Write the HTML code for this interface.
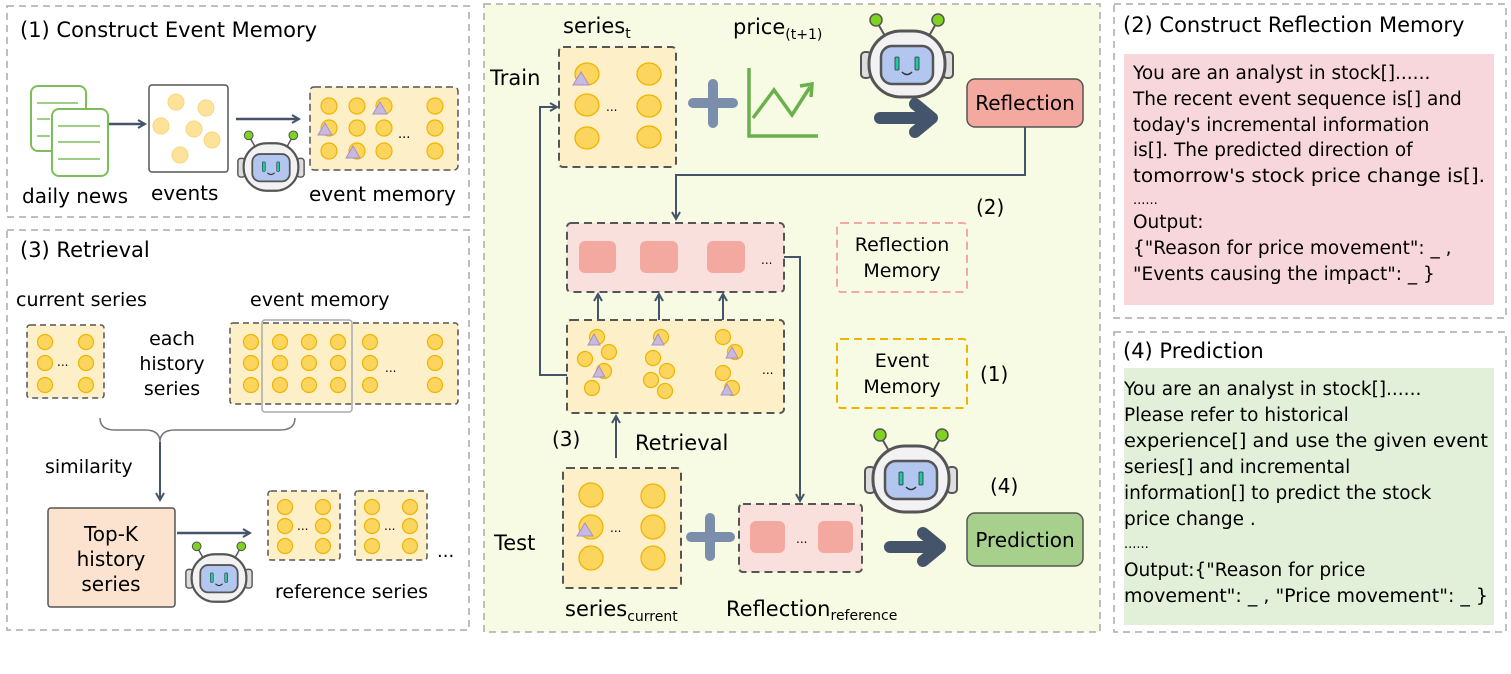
<!DOCTYPE html>
<html><head><meta charset="utf-8"><style>
html,body{margin:0;padding:0;background:#fff;}
svg{display:block;font-family:"DejaVu Sans","Liberation Sans",sans-serif;}
</style></head><body>
<svg width="1511" height="674" viewBox="0 0 1511 674" xmlns="http://www.w3.org/2000/svg">
<defs>
<marker id="ah" markerWidth="10" markerHeight="10" refX="8" refY="5" orient="auto" markerUnits="userSpaceOnUse">
<path d="M1,1 L8,5 L1,9" fill="none" stroke="#44546a" stroke-width="2"/></marker>
<g id="robot">
<line x1="-22" y1="-28" x2="-30" y2="-42" stroke="#555" stroke-width="2"/>
<line x1="22" y1="-28" x2="30" y2="-42" stroke="#555" stroke-width="2"/>
<circle cx="-31" cy="-44" r="6" fill="#7ed321" stroke="#555" stroke-width="1.5"/>
<circle cx="31" cy="-44" r="6" fill="#7ed321" stroke="#555" stroke-width="1.5"/>
<rect x="-46" y="-12" width="10" height="26" rx="4" fill="#ddd" stroke="#555" stroke-width="2"/>
<rect x="36" y="-12" width="10" height="26" rx="4" fill="#ddd" stroke="#555" stroke-width="2"/>
<rect x="-38" y="-33" width="76" height="66" rx="32" fill="#f2f2f2" stroke="#555" stroke-width="3"/>
<rect x="-26" y="-18" width="52" height="38" rx="11" fill="#b3c6ef" stroke="#555" stroke-width="2.5"/>
<rect x="-12" y="-7" width="4" height="13" rx="1" fill="#22c9a0" stroke="#333" stroke-width="0.8"/>
<rect x="8" y="-7" width="4" height="13" rx="1" fill="#22c9a0" stroke="#333" stroke-width="0.8"/>
<path d="M-5,8 Q0,13 5,8" fill="none" stroke="#333" stroke-width="1.5"/>
</g>
</defs>

<!-- Panel 1 -->
<rect x="7" y="6" width="462" height="211" fill="none" stroke="#aaa" stroke-width="1.5" stroke-dasharray="7,5"/>
<text x="20" y="37" font-size="21">(1) Construct Event Memory</text>
<rect x="31" y="86" width="55" height="65" rx="7" fill="#fff" stroke="#7cbf5a" stroke-width="2"/>
<rect x="52" y="109" width="56" height="67" rx="7" fill="#fff" stroke="#7cbf5a" stroke-width="2"/>
<g stroke="#7cbf5a" stroke-width="1.5"><line x1="37" y1="103" x2="78" y2="103"/><line x1="37" y1="119" x2="50" y2="119"/><line x1="37" y1="136" x2="50" y2="136"/>
<line x1="58" y1="126" x2="100" y2="126"/><line x1="58" y1="142" x2="100" y2="142"/><line x1="58" y1="159" x2="100" y2="159"/></g>
<line x1="109" y1="124" x2="145" y2="124" stroke="#44546a" stroke-width="2.5" marker-end="url(#ah)"/>
<rect x="149" y="85" width="79" height="87" rx="3" fill="#fff" stroke="#555" stroke-width="1.5"/>
<g fill="#fde39a" stroke="#f9d77b"><circle cx="176" cy="102" r="8"/><circle cx="206" cy="108" r="8"/><circle cx="161" cy="126" r="8"/><circle cx="194" cy="129" r="8"/><circle cx="212" cy="140" r="8"/><circle cx="180" cy="155" r="8"/></g>
<line x1="236" y1="119" x2="299" y2="119" stroke="#44546a" stroke-width="2.5" marker-end="url(#ah)"/>
<rect x="310" y="87" width="148" height="83" rx="4" fill="#fdf0c8" stroke="#555" stroke-width="1.5" stroke-dasharray="7,4"/>
<g fill="#fcd55f" stroke="#f0b400" stroke-width="1.2">
<circle cx="329" cy="106" r="8"/><circle cx="357" cy="106" r="8"/><circle cx="384" cy="106" r="8"/><circle cx="435" cy="106" r="8"/>
<circle cx="329" cy="128" r="8"/><circle cx="357" cy="128" r="8"/><circle cx="384" cy="128" r="8"/><circle cx="435" cy="128" r="8"/>
<circle cx="329" cy="151" r="8"/><circle cx="357" cy="151" r="8"/><circle cx="384" cy="151" r="8"/><circle cx="435" cy="151" r="8"/></g>
<g fill="#c9b8e0" stroke="#a493c6"><path d="M373,114 L380,102 L387,114Z"/><path d="M318,135 L325,123 L332,135Z"/><path d="M346,158 L353,146 L360,158Z"/></g>
<text x="398" y="138" font-size="13">...</text>
<use href="#robot" transform="translate(271,167) scale(0.72)"/>
<text x="22" y="203" font-size="20">daily news</text>
<text x="151" y="200" font-size="20">events</text>
<text x="309" y="201" font-size="20">event memory</text>

<!-- Panel 3 -->
<rect x="7" y="230" width="462" height="400" fill="none" stroke="#aaa" stroke-width="1.5" stroke-dasharray="7,5"/>
<text x="20" y="257" font-size="21">(3) Retrieval</text>
<text x="16" y="306" font-size="19">current series</text>
<text x="250" y="306" font-size="19">event memory</text>
<rect x="27" y="325" width="77" height="73" rx="3" fill="#fdf0c8" stroke="#555" stroke-width="1.5" stroke-dasharray="6,4"/>
<g fill="#fcd55f" stroke="#f0b400" stroke-width="1.2">
<circle cx="45" cy="342" r="7.5"/><circle cx="86" cy="342" r="7.5"/><circle cx="45" cy="363" r="7.5"/><circle cx="86" cy="363" r="7.5"/><circle cx="45" cy="385" r="7.5"/><circle cx="86" cy="385" r="7.5"/></g>
<text x="57" y="366" font-size="12">...</text>
<text x="172" y="345" font-size="19" text-anchor="middle">each</text>
<text x="172" y="370" font-size="19" text-anchor="middle">history</text>
<text x="172" y="395" font-size="19" text-anchor="middle">series</text>
<rect x="230" y="323" width="228" height="81" rx="3" fill="#fdf0c8" stroke="#555" stroke-width="1.5" stroke-dasharray="6,4"/>
<g fill="#fcd55f" stroke="#f0b400" stroke-width="1.2">
<circle cx="251" cy="342" r="7.5"/><circle cx="280" cy="342" r="7.5"/><circle cx="309" cy="342" r="7.5"/><circle cx="338" cy="342" r="7.5"/><circle cx="370" cy="342" r="7.5"/><circle cx="435" cy="342" r="7.5"/>
<circle cx="251" cy="363" r="7.5"/><circle cx="280" cy="363" r="7.5"/><circle cx="309" cy="363" r="7.5"/><circle cx="338" cy="363" r="7.5"/><circle cx="370" cy="363" r="7.5"/><circle cx="435" cy="363" r="7.5"/>
<circle cx="251" cy="385" r="7.5"/><circle cx="280" cy="385" r="7.5"/><circle cx="309" cy="385" r="7.5"/><circle cx="338" cy="385" r="7.5"/><circle cx="370" cy="385" r="7.5"/><circle cx="435" cy="385" r="7.5"/></g>
<text x="385" y="372" font-size="12">...</text>
<rect x="262" y="320" width="90" height="92" rx="3" fill="none" stroke="#aaa" stroke-width="1.5"/>
<path d="M100,418 Q100,430 115,430 L145,430 Q160,430 160,442 Q160,430 175,430 L280,430 Q295,430 295,418" fill="none" stroke="#777" stroke-width="1.5"/>
<line x1="160" y1="442" x2="160" y2="500" stroke="#44546a" stroke-width="2" marker-end="url(#ah)"/>
<text x="45" y="473" font-size="19">similarity</text>
<rect x="48" y="508" width="127" height="99" rx="3" fill="#fbe3cf" stroke="#555" stroke-width="1.5"/>
<text x="111" y="541" font-size="20" text-anchor="middle">Top-K</text>
<text x="111" y="566" font-size="20" text-anchor="middle">history</text>
<text x="111" y="591" font-size="20" text-anchor="middle">series</text>
<line x1="177" y1="533" x2="250" y2="533" stroke="#44546a" stroke-width="2.5" marker-end="url(#ah)"/>
<use href="#robot" transform="translate(219,578) scale(0.72)"/>
<g fill="#fdf0c8" stroke="#555" stroke-width="1.5" stroke-dasharray="6,4"><rect x="268" y="491" width="72" height="69" rx="3"/><rect x="355" y="491" width="72" height="69" rx="3"/></g>
<g fill="#fcd55f" stroke="#f0b400" stroke-width="1.2">
<circle cx="285" cy="507" r="7.5"/><circle cx="323" cy="507" r="7.5"/><circle cx="285" cy="526" r="7.5"/><circle cx="323" cy="526" r="7.5"/><circle cx="285" cy="546" r="7.5"/><circle cx="323" cy="546" r="7.5"/>
<circle cx="372" cy="507" r="7.5"/><circle cx="410" cy="507" r="7.5"/><circle cx="372" cy="526" r="7.5"/><circle cx="410" cy="526" r="7.5"/><circle cx="372" cy="546" r="7.5"/><circle cx="410" cy="546" r="7.5"/></g>
<text x="297" y="530" font-size="12">...</text><text x="384" y="530" font-size="12">...</text>
<text x="437" y="557" font-size="18">...</text>
<text x="275" y="598" font-size="19">reference series</text>

<!-- Center panel -->
<rect x="484" y="4" width="616" height="628" fill="#f8fbe3" stroke="#aaa" stroke-width="1.5" stroke-dasharray="7,5"/>
<text x="563" y="33" font-size="21">series<tspan font-size="14" dy="5">t</tspan></text>
<text x="733" y="34" font-size="21">price<tspan font-size="14" dy="5">(t+1)</tspan></text>
<text x="490" y="85" font-size="21">Train</text>
<rect x="559" y="47" width="117" height="120" rx="4" fill="#fdf0c8" stroke="#555" stroke-width="2" stroke-dasharray="8,5"/>
<g fill="#fcd55f" stroke="#f0b400" stroke-width="1.3">
<ellipse cx="587" cy="74" rx="12" ry="11"/><ellipse cx="649" cy="74" rx="12" ry="11"/><ellipse cx="587" cy="105" rx="12" ry="11"/><ellipse cx="649" cy="106" rx="12" ry="11"/><ellipse cx="587" cy="138" rx="12" ry="11"/><ellipse cx="649" cy="137" rx="12" ry="11"/></g>
<path d="M573,85 L581,72 L589,85Z" fill="#c9b8e0" stroke="#a493c6"/>
<text x="606" y="111" font-size="12">...</text>
<g stroke="#7b8fad" stroke-width="10" stroke-linecap="round"><line x1="693" y1="103" x2="733" y2="103"/><line x1="713" y1="84" x2="713" y2="123"/></g>
<path d="M749,68 L749,136 L818,136" fill="none" stroke="#6ab04c" stroke-width="3.5"/>
<path d="M753,118 L774,90 L792,115 L810,87" fill="none" stroke="#6ab04c" stroke-width="3.5"/>
<path d="M800,86 L812,84 L811,97" fill="none" stroke="#6ab04c" stroke-width="3.5"/>
<use href="#robot" transform="translate(907,64)"/>
<g stroke="#44546a" stroke-width="12" stroke-linecap="round" fill="none"><line x1="880" y1="118" x2="928" y2="118"/><path d="M915,104 L932,118 L915,132" stroke-linejoin="round"/></g>
<rect x="967" y="79" width="116" height="48" rx="8" fill="#f4a9a0" stroke="#555" stroke-width="1.5"/>
<text x="1025" y="110" font-size="20" text-anchor="middle">Reflection</text>
<path d="M1025,127 L1025,175 L676,175 L676,219" fill="none" stroke="#44546a" stroke-width="2" marker-end="url(#ah)"/>
<text x="976" y="214" font-size="20">(2)</text>
<rect x="567" y="223" width="217" height="69" rx="4" fill="#fae0dc" stroke="#555" stroke-width="2" stroke-dasharray="8,5"/>
<g fill="#f4a9a0"><rect x="579" y="241" width="37" height="32" rx="6"/><rect x="640" y="241" width="38" height="32" rx="6"/><rect x="707" y="241" width="38" height="32" rx="6"/></g>
<text x="761" y="264" font-size="12">...</text>
<path d="M784,257 L800,257 L800,501" fill="none" stroke="#44546a" stroke-width="2" marker-end="url(#ah)"/>
<rect x="837" y="223" width="130" height="69" rx="4" fill="none" stroke="#f4a9a0" stroke-width="2" stroke-dasharray="8,5"/>
<text x="902" y="251" font-size="19" text-anchor="middle">Reflection</text>
<text x="902" y="277" font-size="19" text-anchor="middle">Memory</text>
<g stroke="#44546a" stroke-width="2"><line x1="598" y1="320" x2="598" y2="294" marker-end="url(#ah)"/><line x1="659" y1="320" x2="659" y2="294" marker-end="url(#ah)"/><line x1="723" y1="320" x2="723" y2="294" marker-end="url(#ah)"/></g>
<path d="M567,375 L540,375 L540,107 L557,107" fill="none" stroke="#44546a" stroke-width="2" marker-end="url(#ah)"/>
<rect x="567" y="320" width="217" height="93" rx="4" fill="#fdf0c8" stroke="#555" stroke-width="2" stroke-dasharray="8,5"/>
<g fill="#fcd55f" stroke="#f0b400" stroke-width="1.2">
<circle cx="597" cy="337" r="7.5"/><circle cx="609" cy="352" r="7.5"/><circle cx="585" cy="359" r="7.5"/><circle cx="604" cy="371" r="7.5"/><circle cx="592" cy="388" r="7.5"/>
<circle cx="661" cy="337" r="7.5"/><circle cx="653" cy="358" r="7.5"/><circle cx="667" cy="371" r="7.5"/><circle cx="651" cy="380" r="7.5"/><circle cx="665" cy="391" r="7.5"/>
<circle cx="723" cy="337" r="7.5"/><circle cx="735" cy="352" r="7.5"/><circle cx="723" cy="373" r="7.5"/><circle cx="732" cy="388" r="7.5"/></g>
<g fill="#c9b8e0" stroke="#a493c6"><path d="M588,345 L594,334 L600,345Z"/><path d="M593,377 L599,366 L605,377Z"/><path d="M652,345 L658,334 L664,345Z"/><path d="M726,358 L732,347 L738,358Z"/><path d="M721,395 L727,384 L733,395Z"/></g>
<text x="762" y="374" font-size="12">...</text>
<rect x="837" y="339" width="130" height="69" rx="4" fill="none" stroke="#f0b400" stroke-width="2" stroke-dasharray="8,5"/>
<text x="902" y="367" font-size="19" text-anchor="middle">Event</text>
<text x="902" y="393" font-size="19" text-anchor="middle">Memory</text>
<text x="980" y="381" font-size="20">(1)</text>
<text x="552" y="446" font-size="20">(3)</text>
<line x1="616" y1="458" x2="616" y2="416" stroke="#44546a" stroke-width="2" marker-end="url(#ah)"/>
<text x="635" y="450" font-size="21">Retrieval</text>
<text x="494" y="550" font-size="21">Test</text>
<rect x="563" y="468" width="118" height="120" rx="4" fill="#fdf0c8" stroke="#555" stroke-width="2" stroke-dasharray="8,5"/>
<g fill="#fcd55f" stroke="#f0b400" stroke-width="1.3">
<ellipse cx="591" cy="495" rx="12" ry="12"/><ellipse cx="653" cy="496" rx="12" ry="12"/><ellipse cx="591" cy="527" rx="12" ry="12"/><ellipse cx="653" cy="527" rx="12" ry="12"/><ellipse cx="591" cy="558" rx="12" ry="12"/><ellipse cx="653" cy="558" rx="12" ry="12"/></g>
<path d="M577,536 L585,523 L593,536Z" fill="#c9b8e0" stroke="#a493c6"/>
<text x="610" y="532" font-size="12">...</text>
<g stroke="#7b8fad" stroke-width="10" stroke-linecap="round"><line x1="691" y1="537" x2="730" y2="537"/><line x1="710" y1="518" x2="710" y2="556"/></g>
<rect x="739" y="504" width="123" height="68" rx="4" fill="#fae0dc" stroke="#555" stroke-width="2" stroke-dasharray="8,5"/>
<g fill="#f4a9a0"><rect x="750" y="521" width="35" height="32" rx="6"/><rect x="818" y="521" width="35" height="32" rx="6"/></g>
<text x="796" y="543" font-size="12">...</text>
<text x="565" y="616" font-size="21">series<tspan font-size="14" dy="5">current</tspan></text>
<text x="726" y="616" font-size="21">Reflection<tspan font-size="14" dy="4">reference</tspan></text>
<use href="#robot" transform="translate(911,479)"/>
<text x="990" y="493" font-size="20">(4)</text>
<g stroke="#44546a" stroke-width="12" stroke-linecap="round" fill="none"><line x1="890" y1="547" x2="936" y2="547"/><path d="M923,533 L940,547 L923,561" stroke-linejoin="round"/></g>
<rect x="967" y="513" width="116" height="53" rx="8" fill="#a8d08d" stroke="#555" stroke-width="1.5"/>
<text x="1025" y="547" font-size="20" text-anchor="middle">Prediction</text>

<!-- Panel 2 -->
<rect x="1114" y="4" width="392" height="314" fill="none" stroke="#aaa" stroke-width="1.5" stroke-dasharray="7,5"/>
<text x="1123" y="32" font-size="21">(2) Construct Reflection Memory</text>
<rect x="1124" y="54" width="370" height="251" fill="#f8d7dc"/>
<g font-size="18.5">
<text x="1133" y="79">You are an analyst in stock[]......</text>
<text x="1133" y="105">The recent event sequence is[] and</text>
<text x="1133" y="131">today's incremental information</text>
<text x="1133" y="156">is[]. The predicted direction of</text>
<text x="1133" y="182" textLength="352" lengthAdjust="spacingAndGlyphs">tomorrow's stock price change is[].</text>
<text x="1133" y="204" font-size="13">......</text>
<text x="1133" y="228">Output:</text>
<text x="1133" y="254">{"Reason for price movement": _ ,</text>
<text x="1133" y="280">"Events causing the impact": _ }</text>
</g>

<!-- Panel 4 -->
<rect x="1114" y="332" width="392" height="300" fill="none" stroke="#aaa" stroke-width="1.5" stroke-dasharray="7,5"/>
<text x="1123" y="358" font-size="21">(4)  Prediction</text>
<rect x="1124" y="368" width="370" height="257" fill="#e2f0d9"/>
<g font-size="18.5">
<text x="1124" y="395">You are an analyst in stock[]......</text>
<text x="1124" y="421">Please refer to historical</text>
<text x="1124" y="447" textLength="364" lengthAdjust="spacingAndGlyphs">experience[] and use the given event</text>
<text x="1124" y="473">series[] and incremental</text>
<text x="1124" y="499">information[] to predict the stock</text>
<text x="1124" y="525">price change .</text>
<text x="1124" y="548" font-size="13">......</text>
<text x="1124" y="576">Output:{"Reason for price</text>
<text x="1124" y="602" textLength="364" lengthAdjust="spacingAndGlyphs">movement": _ , "Price movement": _ }</text>
</g>
</svg>
</body></html>
